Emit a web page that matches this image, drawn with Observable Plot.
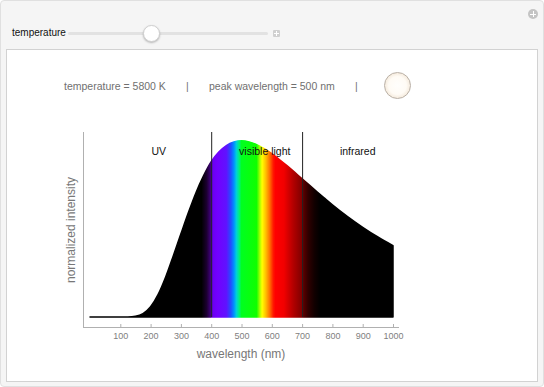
<!DOCTYPE html>
<html>
<head>
<meta charset="utf-8">
<script src="https://cdn.jsdelivr.net/npm/d3@7"></script>
<script src="https://cdn.jsdelivr.net/npm/@observablehq/plot@0.6"></script>
<style>
  html, body { margin: 0; padding: 0; }
  body { width: 544px; height: 387px; overflow: hidden; background: #fff; font-family: "Liberation Sans", Arial, sans-serif; position: relative; }
  #outer { position: absolute; left: 0; top: 0; width: 542px; height: 385px; background: #f5f5f5; border: 1px solid #e0e0e0; border-radius: 4px; }
  #inner { position: absolute; left: 6px; top: 49px; width: 530px; height: 331px; background: #fff; border: 1px solid #d2d2d2; }
  .abs { position: absolute; white-space: nowrap; }
  #sliderLabel { left: 12px; top: 27px; font-size: 10px; line-height: 12px; color: #111; }
  #track { left: 68px; top: 31.5px; width: 200px; height: 3px; background: #e2e2e2; border-radius: 2px; }
  #thumb { left: 143px; top: 25px; width: 15px; height: 15px; border-radius: 50%; background: #fff; border: 1px solid #d0d0d0; box-shadow: 0 1px 2px rgba(0,0,0,0.25); }
  #plusBtn { left: 273px; top: 30px; width: 7px; height: 7px; background: #d0d0d0; border-radius: 1px; }
  #plusBtn::before { content: ""; position: absolute; left: 3px; top: 1px; width: 1px; height: 5px; background: #fff; }
  #plusBtn::after { content: ""; position: absolute; left: 1px; top: 3px; width: 5px; height: 1px; background: #fff; }
  #cornerBtn { left: 528px; top: 9px; width: 10px; height: 10px; border-radius: 50%; background: #c4c4c4; }
  #cornerBtn::before { content: ""; position: absolute; left: 4.5px; top: 2px; width: 1px; height: 6px; background: #fff; }
  #cornerBtn::after { content: ""; position: absolute; left: 2px; top: 4.5px; width: 6px; height: 1px; background: #fff; }
  .info { font-size: 10.5px; line-height: 12px; color: #707070; top: 80px; }
  #star { left: 384px; top: 72px; width: 25px; height: 25px; border-radius: 50%; border: 1.5px solid #b9b0a6;
          background: radial-gradient(circle, #fffefc 0%, #fffbf5 50%, #f0e3d2 82%, #e2d2bd 100%); }
  #chart { position: absolute; left: 0; top: 110px; }
</style>
</head>
<body>
<div id="outer"></div>
<div id="cornerBtn" class="abs"></div>
<div id="sliderLabel" class="abs">temperature</div>
<div id="track" class="abs"></div>
<div id="thumb" class="abs"></div>
<div id="plusBtn" class="abs"></div>
<div id="inner"></div>
<div id="tempText" class="abs info" style="left:64px"></div>
<div class="abs info" style="left:186px">|</div>
<div id="peakText" class="abs info" style="left:209px"></div>
<div class="abs info" style="left:355px">|</div>
<div id="star" class="abs"></div>
<div id="chart"></div>
<script>
// ---- data ----
const temperature = 5800;
const peakWavelength = 500;

const wavelength = [0, 50, 100, 125, 150, 175, 200, 225, 250, 275, 300, 325, 350, 375, 400, 425, 450, 475, 500,
                    525, 550, 575, 600, 625, 650, 675, 700, 725, 750, 775, 800, 850, 900, 950, 1000];
const intensity  = [0, 0, 0.0000, 0.0004, 0.004, 0.019, 0.058, 0.128, 0.228, 0.348, 0.472, 0.594, 0.707, 0.802, 0.881, 0.936, 0.973, 0.993, 1.0,
                    0.994, 0.978, 0.955, 0.927, 0.894, 0.859, 0.822, 0.784, 0.747, 0.709, 0.673, 0.637, 0.570, 0.509, 0.454, 0.405];

const boundaries = [400, 700];
const regionNames = ["UV", "visible light", "infrared"];
const regionLabelX = [225, 575, 882];
const regionLabelY = [0.942, 0.942, 0.942];
const xTicks = [100, 200, 300, 400, 500, 600, 700, 800, 900, 1000];
const yTop = 1.05;

// visible-spectrum colour stops (nm -> colour)
const spectrumNm    = [0, 368, 385, 398, 403, 420, 450, 465, 475, 483, 492, 500, 550, 560, 568, 580, 593, 605, 612, 640, 670, 698, 706, 720, 740, 760, 1000];
const spectrumColor = ["#000000", "#000000", "#1c0030", "#40007c", "#6a00f0", "#7200ff", "#6012ff", "#2050ff", "#0090ff", "#00d0d8",
                       "#00f080", "#00ff20", "#10ff00", "#a0ff00", "#ffff00", "#ffc000", "#ff7000", "#ff1800", "#ff0000", "#f20000",
                       "#b40000", "#820000", "#560000", "#300000", "#120000", "#000000", "#000000"];

document.getElementById("tempText").textContent = `temperature = ${temperature} K`;
document.getElementById("peakText").textContent = `peak wavelength = ${peakWavelength} nm`;

const data = wavelength.map((w, i) => ({w, v: intensity[i]}));

const chart = Plot.plot({
  width: 544,
  height: 260,
  marginLeft: 83,
  marginRight: 146,
  marginTop: 22,
  marginBottom: 43,
  style: {fontFamily: "'Liberation Sans', Arial, sans-serif", background: "transparent"},
  x: {domain: [0, 1000], insetLeft: 7, insetRight: 5},
  y: {domain: [0, yTop], insetBottom: 10, axis: null},
  marks: [
    Plot.areaY(data, {x: "w", y: "v", fill: "url(#spec)", stroke: "url(#spec)", strokeWidth: 1.5, curve: "monotone-x"}),
    Plot.ruleX(boundaries, {x: d => d, y1: 0, y2: yTop, stroke: "#222", strokeWidth: 1}),
    Plot.text(regionNames, {x: (d, i) => regionLabelX[i], y: (d, i) => regionLabelY[i], text: d => d, fontSize: 10.5, fill: "#111"}),
    Plot.frame({anchor: "bottom", stroke: "#b0b0b0"}),
    Plot.frame({anchor: "left", stroke: "#b0b0b0"}),
    Plot.ruleX(xTicks, {x: d => d, insetTop: 192, stroke: "#b0b0b0"}),
    Plot.axisX({ticks: xTicks, tickSize: 0, tickPadding: 5, label: null, fontSize: 9, fill: "#808080", tickFormat: d => String(d)}),
    Plot.text(["wavelength (nm)"], {frameAnchor: "bottom", dy: 27, lineAnchor: "middle", text: d => d, fontSize: 12, fill: "#777"}),
    Plot.text(["normalized intensity"], {frameAnchor: "left", dx: -12, rotate: -90, textAnchor: "middle", lineAnchor: "middle", text: d => d, fontSize: 12, fill: "#777"})
  ]
});

// gradient fill for the area, placed via the chart's own x scale
const xs = chart.scale("x");
const gx1 = xs.apply(0), gx2 = xs.apply(1000);
const defs = d3.select(chart).insert("defs", ":first-child");
const grad = defs.append("linearGradient")
  .attr("id", "spec")
  .attr("gradientUnits", "userSpaceOnUse")
  .attr("x1", gx1).attr("x2", gx2).attr("y1", 0).attr("y2", 0);
spectrumNm.forEach((nm, i) => {
  grad.append("stop")
    .attr("offset", (xs.apply(nm) - gx1) / (gx2 - gx1))
    .attr("stop-color", spectrumColor[i]);
});

document.getElementById("chart").appendChild(chart);
</script>
</body>
</html>
